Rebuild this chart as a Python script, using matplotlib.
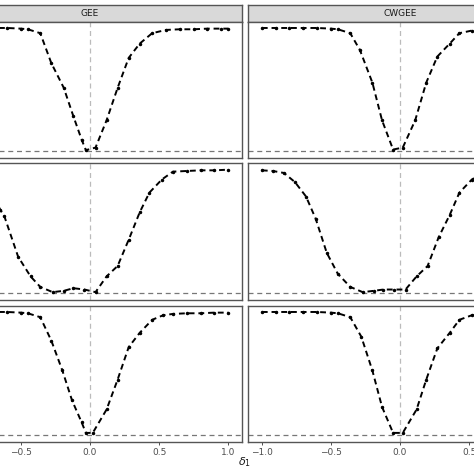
import matplotlib
matplotlib.use("Agg")
import matplotlib.pyplot as plt

col_titles = ["GEE", "CWGEE"]
xticks = [-1.0, -0.5, 0.0, 0.5, 1.0]
xtick_labels = ["\u22121.0", "\u22120.5", "0.0", "0.5", "1.0"]
ref_level = 0.05

# row 1
r1_gee_x = [-1.0, -0.9, -0.8, -0.7, -0.6, -0.5, -0.45, -0.36, -0.28, -0.19, -0.12, -0.06, -0.03, 0.04, 0.12, 0.2, 0.28, 0.36, 0.45, 0.55, 0.65, 0.75, 0.85, 0.95, 1.0]
r1_gee_y = [1.0, 1.0, 1.0, 1.0, 1.0, 0.995, 0.99, 0.96, 0.73, 0.54, 0.32, 0.14, 0.06, 0.08, 0.29, 0.54, 0.77, 0.88, 0.96, 0.985, 0.99, 0.99, 0.995, 0.995, 0.995]
r1_cw_x = [-1.0, -0.9, -0.8, -0.7, -0.6, -0.5, -0.45, -0.36, -0.29, -0.2, -0.13, -0.05, 0.02, 0.11, 0.19, 0.27, 0.36, 0.43, 0.52, 0.6, 0.7, 0.8, 0.9, 1.0]
r1_cw_y = [1.0, 1.0, 1.0, 1.0, 1.0, 0.995, 0.99, 0.96, 0.83, 0.58, 0.29, 0.065, 0.08, 0.29, 0.58, 0.78, 0.88, 0.96, 0.98, 0.99, 0.995, 0.995, 0.995, 0.995]
# row 2
r2_gee_x = [-1.0, -0.9, -0.8, -0.7, -0.65, -0.62, -0.52, -0.43, -0.36, -0.27, -0.19, -0.12, -0.04, 0.04, 0.12, 0.2, 0.28, 0.36, 0.43, 0.52, 0.6, 0.7, 0.8, 0.9, 1.0]
r2_gee_y = [1.0, 0.99, 0.95, 0.8, 0.69, 0.64, 0.33, 0.18, 0.1, 0.06, 0.07, 0.09, 0.08, 0.06, 0.18, 0.26, 0.46, 0.67, 0.82, 0.92, 0.98, 0.985, 0.99, 0.99, 0.995]
r2_cw_x = [-1.0, -0.92, -0.84, -0.76, -0.68, -0.61, -0.53, -0.45, -0.36, -0.27, -0.19, -0.12, -0.04, 0.04, 0.12, 0.2, 0.28, 0.36, 0.43, 0.52, 0.6, 0.7, 0.8, 0.9, 1.0]
r2_cw_y = [0.99, 0.985, 0.97, 0.9, 0.79, 0.62, 0.36, 0.2, 0.1, 0.06, 0.07, 0.08, 0.08, 0.08, 0.18, 0.26, 0.48, 0.65, 0.82, 0.92, 0.97, 0.985, 0.99, 0.99, 0.995]
# row 3
r3_gee_x = [-1.0, -0.9, -0.8, -0.7, -0.6, -0.5, -0.45, -0.36, -0.28, -0.2, -0.13, -0.06, -0.03, 0.02, 0.12, 0.2, 0.28, 0.36, 0.45, 0.53, 0.6, 0.7, 0.8, 0.9, 1.0]
r3_gee_y = [1.0, 1.0, 1.0, 1.0, 1.0, 0.995, 0.99, 0.96, 0.78, 0.55, 0.32, 0.15, 0.07, 0.07, 0.25, 0.48, 0.73, 0.84, 0.94, 0.975, 0.985, 0.99, 0.99, 0.995, 0.995]
r3_cw_x = [-1.0, -0.9, -0.8, -0.7, -0.6, -0.5, -0.45, -0.36, -0.28, -0.2, -0.13, -0.05, 0.02, 0.12, 0.19, 0.27, 0.36, 0.43, 0.52, 0.6, 0.7, 0.8, 0.9, 1.0]
r3_cw_y = [1.0, 1.0, 1.0, 1.0, 1.0, 0.995, 0.99, 0.96, 0.81, 0.55, 0.27, 0.07, 0.07, 0.25, 0.48, 0.72, 0.84, 0.94, 0.975, 0.985, 0.99, 0.99, 0.995, 0.995]

series = [[(r1_gee_x, r1_gee_y), (r1_cw_x, r1_cw_y)],
          [(r2_gee_x, r2_gee_y), (r2_cw_x, r2_cw_y)],
          [(r3_gee_x, r3_gee_y), (r3_cw_x, r3_cw_y)]]

W = H = 474
fig = plt.figure(figsize=(4.74, 4.74), dpi=100)
cols_px = [(-62, 242), (248, 552)]
rows_px = [(22, 158), (163, 300), (306, 442)]

def rect(x0, x1, y0, y1):
    return [x0 / W, 1 - y1 / H, (x1 - x0) / W, (y1 - y0) / H]

edge = "#555555"
for c, (x0, x1) in enumerate(cols_px):
    sax = fig.add_axes(rect(x0, x1, 5, 22))
    sax.set_facecolor("#d9d9d9")
    sax.set_xticks([]); sax.set_yticks([])
    for s in sax.spines.values():
        s.set_color(edge); s.set_linewidth(1.0)
    sax.text(0.5, 0.5, col_titles[c], transform=sax.transAxes, ha="center",
             va="center", fontsize=6.5, color="#1a1a1a")
    for r, (y0, y1) in enumerate(rows_px):
        ax = fig.add_axes(rect(x0, x1, y0, y1))
        xs, ys = series[r][c]
        ax.axvline(0, color="#bbbbbb", ls=(0, (4, 3)), lw=0.9, zorder=1)
        ax.axhline(ref_level, color="#777777", ls=(0, (4, 3)), lw=0.9, zorder=1)
        ax.plot(xs, ys, color="black", ls=(0, (3, 2)), lw=1.4, marker="o",
                ms=1.5, zorder=3)
        ax.set_xlim(-1.1, 1.1)
        ax.set_ylim(0, 1.046)
        ax.set_yticks([])
        ax.set_xticks(xticks)
        if r == 2:
            ax.set_xticklabels(xtick_labels, fontsize=6.5, color="#4d4d4d")
            ax.tick_params(axis="x", length=2.5, pad=1.5, color="#333333", width=0.6)
        else:
            ax.tick_params(axis="x", length=0, labelbottom=False)
        for s in ax.spines.values():
            s.set_color(edge); s.set_linewidth(1.0)

fig.text(245 / W, 1 - 462 / H, "$\\delta_1$", ha="center", va="center",
         fontsize=8, color="#1a1a1a")
fig.savefig("out.png", dpi=100)
